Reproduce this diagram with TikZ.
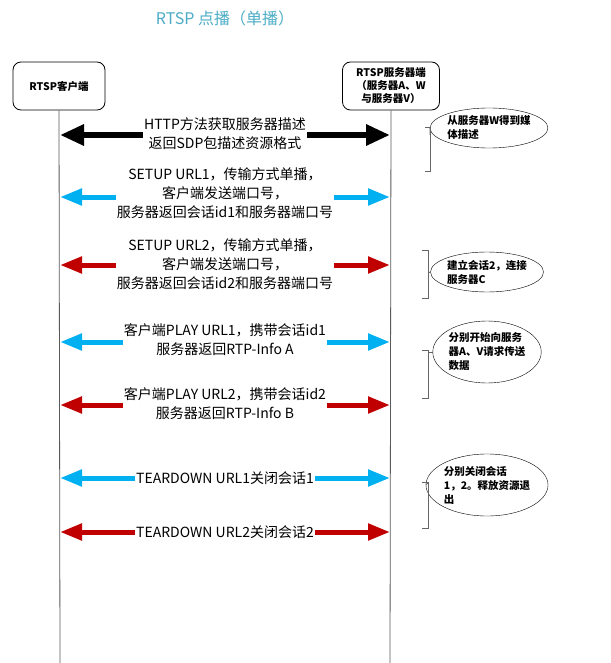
\documentclass[tikz,border=0pt]{standalone}
\usepackage{fontspec}
\setmainfont{Noto Sans CJK SC}
\usetikzlibrary{arrows.meta,shapes.geometric}
\definecolor{cy}{RGB}{0,176,240}
\definecolor{rd}{RGB}{192,0,0}
\definecolor{tt}{RGB}{75,172,198}
\begin{document}
\begin{tikzpicture}[x=1pt,y=-1pt,
  actor/.style={draw,rounded corners=8pt,thick,align=center,font=\fontsize{10.5}{13}\selectfont\bfseries,inner sep=2pt},
  msg/.style={fill=white,align=center,inner sep=1pt,font=\fontsize{14}{19}\selectfont},
  big/.style={line width=6pt,{Triangle[length=24pt,width=20pt]}-{Triangle[length=24pt,width=20pt]},shorten <=0pt},
  med/.style={line width=5pt,{Triangle[length=22pt,width=16pt]}-{Triangle[length=22pt,width=16pt]}},
  note/.style={draw,ellipse,align=left,inner sep=0pt,font=\fontsize{10.5}{14}\selectfont\bfseries},
  br/.style={draw=gray!80!black,thick}]
\useasboundingbox (0,0) rectangle (610,663);
\node[text=tt,font=\fontsize{16}{18}\selectfont] (title) at (225,18) {RTSP 点播（单播）};
\node[actor,minimum width=92pt,minimum height=48pt] (cl) at (59,86) {RTSP客户端};
\node[actor,minimum width=97pt,minimum height=48pt] (sv) at (391,86) {RTSP服务器端\\（服务器A、W\\与服务器V）};
\coordinate (cb) at (60,663); \coordinate (sb) at (390,663);
\draw[thick,gray!70!black] (cl.south) -- (cb);
\draw[thick,gray!70!black] (sv.south) -- (sb);
\foreach \y/\n in {135/1,197/2,265/3,342/4,405/5,478/6,532/7}{
  \coordinate (L\n) at (60,\y); \coordinate (R\n) at (390,\y);}
\draw[big,black] (L1) -- (R1);
\draw[med,cy] (L2) -- (R2);
\draw[med,rd] (L3) -- (R3);
\draw[med,cy] (L4) -- (R4);
\draw[med,rd] (L5) -- (R5);
\draw[med,cy] (L6) -- (R6);
\draw[med,rd] (L7) -- (R7);
\node[msg] (m1) at (225,134) {HTTP方法获取服务器描述\\返回SDP包描述资源格式};
\node[msg] (m2) at (225,193) {SETUP URL1，传输方式单播，\\客户端发送端口号，\\服务器返回会话id1和服务器端口号};
\node[msg] (m3) at (225,264) {SETUP URL2，传输方式单播，\\客户端发送端口号，\\服务器返回会话id2和服务器端口号};
\node[msg] (m4) at (225,340) {客户端PLAY URL1，携带会话id1\\服务器返回RTP-Info A};
\node[msg] (m5) at (225,404) {客户端PLAY URL2，携带会话id2\\服务器返回RTP-Info B};
\node[msg] (m6) at (225,478) {TEARDOWN URL1关闭会话1};
\node[msg] (m7) at (225,532) {TEARDOWN URL2关闭会话2};
\node[note,minimum width=92pt,minimum height=40pt] (n1) at (489,128) {从服务器W得到媒\\体描述};
\node[note,minimum width=90pt,minimum height=40pt] (n2) at (487,272) {建立会话2，连接\\服务器C};
\node[note,minimum width=94pt,minimum height=62pt] (n3) at (487,352) {分别开始向服务\\器A、V请求传送\\数据};
\node[note,minimum width=94pt,minimum height=62pt] (n4) at (487,485) {分别关闭会话\\1，2。释放资源退\\出};
\draw[br] (425,127) -| (430,171) -- (425,171); \draw[br] (430,135) -- (n1.west);
\draw[br] (422,250) -| (428,298) -- (422,298); \draw[br] (428,273) -- (n2.west);
\draw[br] (422,350) -| (428,398) -- (422,398); \draw[br] (428,352) -- (n3.west);
\draw[br] (422,482) -| (428,528) -- (422,528); \draw[br] (428,483) -- (n4.west);
\end{tikzpicture}
\end{document}
